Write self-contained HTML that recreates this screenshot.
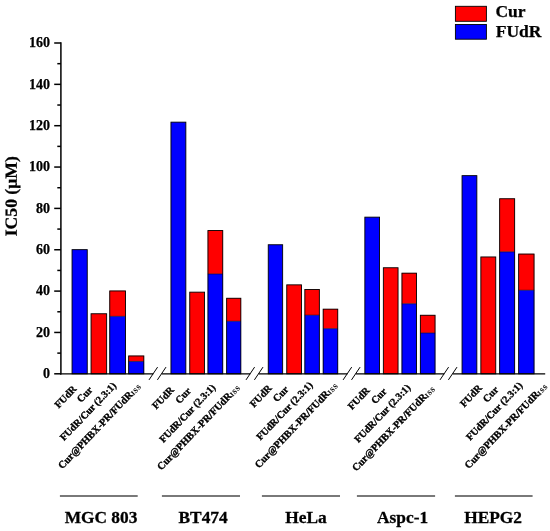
<!DOCTYPE html>
<html><head><meta charset="utf-8"><title>IC50 chart</title>
<style>
html,body{margin:0;padding:0;background:#fff;}
svg{display:block;font-family:"Liberation Serif",serif;font-weight:bold;fill:#000;}
.b{stroke:#000;stroke-width:0.9;}
.ax{stroke:#000;stroke-width:1.5;fill:none;}
.gl{stroke:#4d4d4d;stroke-width:1.4;}
.s{stroke:#000;stroke-width:0.25;}
.t{stroke:#000;stroke-width:0.35;}
</style></head><body>
<svg width="550" height="531" viewBox="0 0 550 531">
<rect width="550" height="531" fill="#fff"/>

<rect class="b" x="72.05" y="249.65" width="15.20" height="124.15" fill="#00f"/>
<rect class="b" x="91.05" y="313.75" width="15.60" height="60.05" fill="#f00"/>
<rect x="109.60" y="290.80" width="16.00" height="25.50" fill="#f00"/>
<rect x="109.60" y="316.35" width="16.00" height="57.45" fill="#00f"/>
<path d="M109.60 316.35H125.60" stroke="#000" stroke-width="0.55"/>
<rect class="b" x="109.75" y="290.95" width="15.70" height="82.85" fill="none"/>
<rect x="128.50" y="355.80" width="15.50" height="5.60" fill="#f00"/>
<rect x="128.50" y="361.45" width="15.50" height="12.35" fill="#00f"/>
<path d="M128.50 361.45H144.00" stroke="#000" stroke-width="0.55"/>
<rect class="b" x="128.65" y="355.95" width="15.20" height="17.85" fill="none"/>
<rect class="b" x="170.95" y="122.15" width="14.90" height="251.65" fill="#00f"/>
<rect class="b" x="189.75" y="292.15" width="14.80" height="81.65" fill="#f00"/>
<rect x="207.80" y="230.40" width="15.10" height="43.50" fill="#f00"/>
<rect x="207.80" y="273.95" width="15.10" height="99.85" fill="#00f"/>
<path d="M207.80 273.95H222.90" stroke="#000" stroke-width="0.55"/>
<rect class="b" x="207.95" y="230.55" width="14.80" height="143.25" fill="none"/>
<rect x="226.50" y="298.10" width="14.50" height="23.10" fill="#f00"/>
<rect x="226.50" y="321.25" width="14.50" height="52.55" fill="#00f"/>
<path d="M226.50 321.25H241.00" stroke="#000" stroke-width="0.55"/>
<rect class="b" x="226.65" y="298.25" width="14.20" height="75.55" fill="none"/>
<rect class="b" x="268.25" y="244.75" width="14.40" height="129.05" fill="#00f"/>
<rect class="b" x="286.75" y="284.85" width="14.80" height="88.95" fill="#f00"/>
<rect x="304.70" y="289.40" width="14.80" height="25.70" fill="#f00"/>
<rect x="304.70" y="315.15" width="14.80" height="58.65" fill="#00f"/>
<path d="M304.70 315.15H319.50" stroke="#000" stroke-width="0.55"/>
<rect class="b" x="304.85" y="289.55" width="14.50" height="84.25" fill="none"/>
<rect x="323.00" y="309.00" width="14.90" height="19.60" fill="#f00"/>
<rect x="323.00" y="328.65" width="14.90" height="45.15" fill="#00f"/>
<path d="M323.00 328.65H337.90" stroke="#000" stroke-width="0.55"/>
<rect class="b" x="323.15" y="309.15" width="14.60" height="64.65" fill="none"/>
<rect class="b" x="364.85" y="217.15" width="14.70" height="156.65" fill="#00f"/>
<rect class="b" x="383.35" y="267.75" width="14.70" height="106.05" fill="#f00"/>
<rect x="401.80" y="273.00" width="14.80" height="30.70" fill="#f00"/>
<rect x="401.80" y="303.75" width="14.80" height="70.05" fill="#00f"/>
<path d="M401.80 303.75H416.60" stroke="#000" stroke-width="0.55"/>
<rect class="b" x="401.95" y="273.15" width="14.50" height="100.65" fill="none"/>
<rect x="420.20" y="315.10" width="15.00" height="17.80" fill="#f00"/>
<rect x="420.20" y="332.95" width="15.00" height="40.85" fill="#00f"/>
<path d="M420.20 332.95H435.20" stroke="#000" stroke-width="0.55"/>
<rect class="b" x="420.35" y="315.25" width="14.70" height="58.55" fill="none"/>
<rect class="b" x="462.05" y="175.65" width="14.80" height="198.15" fill="#00f"/>
<rect class="b" x="480.85" y="256.95" width="14.90" height="116.85" fill="#f00"/>
<rect x="499.50" y="198.60" width="15.30" height="53.20" fill="#f00"/>
<rect x="499.50" y="251.85" width="15.30" height="121.95" fill="#00f"/>
<path d="M499.50 251.85H514.80" stroke="#000" stroke-width="0.55"/>
<rect class="b" x="499.65" y="198.75" width="15.00" height="175.05" fill="none"/>
<rect x="518.50" y="253.90" width="15.70" height="36.30" fill="#f00"/>
<rect x="518.50" y="290.25" width="15.70" height="83.55" fill="#00f"/>
<path d="M518.50 290.25H534.20" stroke="#000" stroke-width="0.55"/>
<rect class="b" x="518.65" y="254.05" width="15.40" height="119.75" fill="none"/>
<path class="ax" d="M60.9 42.25V374.6"/>
<path class="ax" d="M54.2 373.80H60.9"/>
<text class="s" x="50" y="378.00" text-anchor="end" font-size="14">0</text>
<path class="ax" d="M57.3 353.12H60.9"/>
<path class="ax" d="M54.2 332.45H60.9"/>
<text class="s" x="50" y="336.65" text-anchor="end" font-size="14">20</text>
<path class="ax" d="M57.3 311.78H60.9"/>
<path class="ax" d="M54.2 291.10H60.9"/>
<text class="s" x="50" y="295.30" text-anchor="end" font-size="14">40</text>
<path class="ax" d="M57.3 270.43H60.9"/>
<path class="ax" d="M54.2 249.75H60.9"/>
<text class="s" x="50" y="253.95" text-anchor="end" font-size="14">60</text>
<path class="ax" d="M57.3 229.08H60.9"/>
<path class="ax" d="M54.2 208.40H60.9"/>
<text class="s" x="50" y="212.60" text-anchor="end" font-size="14">80</text>
<path class="ax" d="M57.3 187.73H60.9"/>
<path class="ax" d="M54.2 167.05H60.9"/>
<text class="s" x="50" y="171.25" text-anchor="end" font-size="14">100</text>
<path class="ax" d="M57.3 146.38H60.9"/>
<path class="ax" d="M54.2 125.70H60.9"/>
<text class="s" x="50" y="129.90" text-anchor="end" font-size="14">120</text>
<path class="ax" d="M57.3 105.03H60.9"/>
<path class="ax" d="M54.2 84.35H60.9"/>
<text class="s" x="50" y="88.55" text-anchor="end" font-size="14">140</text>
<path class="ax" d="M57.3 63.68H60.9"/>
<path class="ax" d="M54.2 43.00H60.9"/>
<text class="s" x="50" y="47.20" text-anchor="end" font-size="14">160</text>
<path class="ax" style="stroke-width:1.3" d="M60.1 373.80H153.3"/>
<path class="ax" style="stroke-width:1.3" d="M161.7 373.80H250.3"/>
<path class="ax" style="stroke-width:1.3" d="M258.7 373.80H347.4"/>
<path class="ax" style="stroke-width:1.3" d="M355.8 373.80H444.3"/>
<path class="ax" style="stroke-width:1.3" d="M452.7 373.80H545.2"/>
<path d="M149.00 379.9L157.60 367.1" stroke="#000" stroke-width="1.0" fill="none"/>
<path d="M157.40 379.9L166.00 367.1" stroke="#000" stroke-width="1.0" fill="none"/>
<path d="M246.00 379.9L254.60 367.1" stroke="#000" stroke-width="1.0" fill="none"/>
<path d="M254.40 379.9L263.00 367.1" stroke="#000" stroke-width="1.0" fill="none"/>
<path d="M343.10 379.9L351.70 367.1" stroke="#000" stroke-width="1.0" fill="none"/>
<path d="M351.50 379.9L360.10 367.1" stroke="#000" stroke-width="1.0" fill="none"/>
<path d="M440.00 379.9L448.60 367.1" stroke="#000" stroke-width="1.0" fill="none"/>
<path d="M448.40 379.9L457.00 367.1" stroke="#000" stroke-width="1.0" fill="none"/>
<text class="s" transform="translate(16.7,236.3) rotate(-89.97) scale(1,0.966)" font-size="17.65">IC50 (μM)</text>
<rect class="b" x="455.4" y="6.3" width="31" height="15" fill="#f00"/>
<rect class="b" x="455.4" y="24.5" width="31" height="14.7" fill="#00f"/>
<text class="s" x="495.4" y="16.8" font-size="17.5">Cur</text>
<text class="s" x="495.8" y="37.3" font-size="17.5">FUdR</text>
<path class="gl" d="M59.9 496H137.7"/>
<text transform="translate(101.0,523.0) scale(0.98,1)" font-size="17.7" text-anchor="middle" stroke="#000" stroke-width="0.3">MGC 803</text>
<path class="gl" d="M161.9 496H240.0"/>
<text transform="translate(203.1,523.0) scale(0.98,1)" font-size="17.7" text-anchor="middle" stroke="#000" stroke-width="0.3">BT474</text>
<path class="gl" d="M261.9 496H340.0"/>
<text transform="translate(306.0,523.0) scale(0.98,1)" font-size="17.7" text-anchor="middle" stroke="#000" stroke-width="0.3">HeLa</text>
<path class="gl" d="M356.9 496H435.1"/>
<text transform="translate(402.6,523.0) scale(0.98,1)" font-size="17.7" text-anchor="middle" stroke="#000" stroke-width="0.3">Aspc-1</text>
<path class="gl" d="M454.9 496H532.6"/>
<text transform="translate(493.1,523.0) scale(0.98,1)" font-size="17.7" text-anchor="middle" stroke="#000" stroke-width="0.3">HEPG2</text>
<text class="t" transform="translate(77.2,389.4) rotate(-46.3)" text-anchor="end" font-size="10.2">FUdR</text>
<text class="t" transform="translate(93.2,390.4) rotate(-46.3)" text-anchor="end" font-size="10.2">Cur</text>
<text class="t" transform="translate(116.8,386.2) rotate(-46.3)" text-anchor="end" font-size="10.05">FUdR/Cur (2.3:1)</text>
<text class="t" transform="translate(141.6,386.5) rotate(-46.3)" text-anchor="end" font-size="10.3">Cur@PHBX-PR/FUdR<tspan font-size="6.6" dy="0.6" letter-spacing="0.7" stroke-width="0.1">ISS</tspan></text>
<text class="t" transform="translate(174.7,390.5) rotate(-46.3)" text-anchor="end" font-size="10.2">FUdR</text>
<text class="t" transform="translate(191.6,391.5) rotate(-46.3)" text-anchor="end" font-size="10.2">Cur</text>
<text class="t" transform="translate(216.1,388.0) rotate(-46.3)" text-anchor="end" font-size="10.05">FUdR/Cur (2.3:1)</text>
<text class="t" transform="translate(240.7,387.7) rotate(-46.3)" text-anchor="end" font-size="10.3">Cur@PHBX-PR/FUdR<tspan font-size="6.6" dy="0.6" letter-spacing="0.7" stroke-width="0.1">ISS</tspan></text>
<text class="t" transform="translate(272.4,388.7) rotate(-46.3)" text-anchor="end" font-size="10.2">FUdR</text>
<text class="t" transform="translate(289.2,389.9) rotate(-46.3)" text-anchor="end" font-size="10.2">Cur</text>
<text class="t" transform="translate(313.2,385.7) rotate(-46.3)" text-anchor="end" font-size="10.05">FUdR/Cur (2.3:1)</text>
<text class="t" transform="translate(338.3,385.7) rotate(-46.3)" text-anchor="end" font-size="10.3">Cur@PHBX-PR/FUdR<tspan font-size="6.6" dy="0.6" letter-spacing="0.7" stroke-width="0.1">ISS</tspan></text>
<text class="t" transform="translate(370.4,390.9) rotate(-46.3)" text-anchor="end" font-size="10.2">FUdR</text>
<text class="t" transform="translate(387.4,391.9) rotate(-46.3)" text-anchor="end" font-size="10.2">Cur</text>
<text class="t" transform="translate(411.1,388.1) rotate(-46.3)" text-anchor="end" font-size="10.05">FUdR/Cur (2.3:1)</text>
<text class="t" transform="translate(435.6,388.8) rotate(-46.3)" text-anchor="end" font-size="10.3">Cur@PHBX-PR/FUdR<tspan font-size="6.6" dy="0.6" letter-spacing="0.7" stroke-width="0.1">ISS</tspan></text>
<text class="t" transform="translate(482.6,388.4) rotate(-46.3)" text-anchor="end" font-size="10.2">FUdR</text>
<text class="t" transform="translate(499.1,390.2) rotate(-46.3)" text-anchor="end" font-size="10.2">Cur</text>
<text class="t" transform="translate(523.0,385.8) rotate(-46.3)" text-anchor="end" font-size="10.05">FUdR/Cur (2.3:1)</text>
<text class="t" transform="translate(548.1,386.3) rotate(-46.3)" text-anchor="end" font-size="10.3">Cur@PHBX-PR/FUdR<tspan font-size="6.6" dy="0.6" letter-spacing="0.7" stroke-width="0.1">ISS</tspan></text>
</svg></body></html>
